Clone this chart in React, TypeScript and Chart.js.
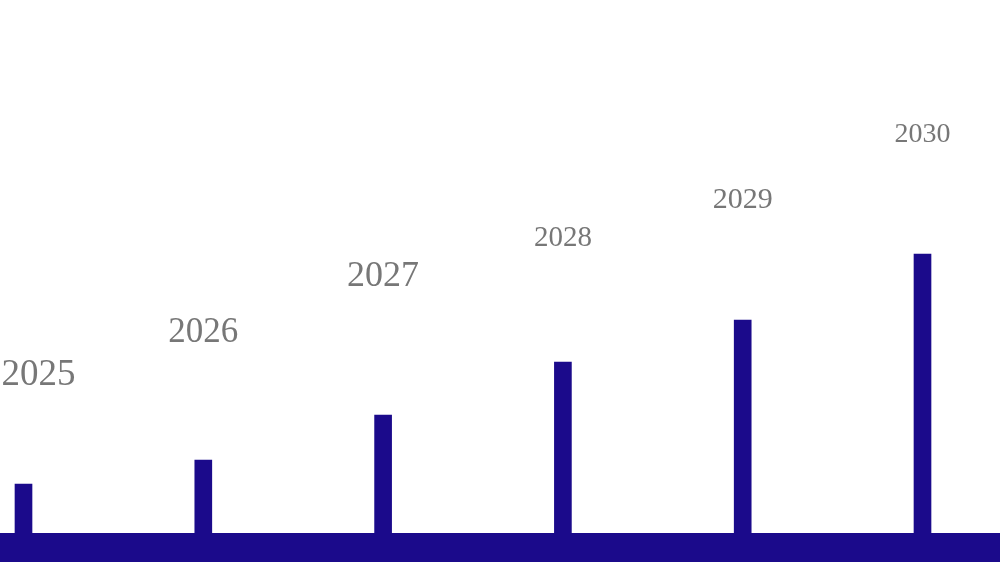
import React, { useEffect, useRef } from "react";
import { Chart, registerables } from "chart.js";

Chart.register(...registerables);

const years = ["2025", "2026", "2027", "2028", "2029", "2030"];
const barValues = [50, 74, 119, 172, 214, 280];
const labelValues = [159, 201, 257, 296, 334, 399];

const NAVY = "#1b0a8b";
const labelFontSizes = [37, 35, 36, 29, 30, 28];
const labelDx = [15, 0, 0, 0, 0, 0];

const yearLabelsPlugin = {
  id: "yearLabels",
  afterDatasetsDraw(chart: any) {
    const { ctx } = chart;
    const xs = chart.scales.x;
    const ys = chart.scales.y;
    ctx.save();
    ctx.fillStyle = "#777777";
    ctx.textAlign = "center";
    ctx.textBaseline = "middle";
    years.forEach((yr, i) => {
      ctx.font = `${labelFontSizes[i]}px "Liberation Serif", "Times New Roman", serif`;
      ctx.fillText(yr, xs.getPixelForValue(i) + labelDx[i], ys.getPixelForValue(labelValues[i]));
    });
    ctx.restore();
  },
};

const baselinePlugin = {
  id: "baseline",
  afterDatasetsDraw(chart: any) {
    const { ctx, chartArea, width, height } = chart;
    ctx.save();
    ctx.fillStyle = NAVY;
    ctx.fillRect(0, chartArea.bottom - 1, width, height - chartArea.bottom + 1);
    ctx.restore();
  },
};

export default function App() {
  const ref = useRef<HTMLCanvasElement | null>(null);
  useEffect(() => {
    if (!ref.current) return;
    const chart = new Chart(ref.current, {
      type: "bar",
      data: {
        labels: years,
        datasets: [
          {
            data: barValues,
            backgroundColor: NAVY,
            barThickness: 17,
            clip: false as any,
          },
        ],
      },
      options: {
        animation: false,
        responsive: false,
        maintainAspectRatio: false,
        layout: { padding: { left: 23.5, right: 77.5, top: 0, bottom: 28 } },
        plugins: { legend: { display: false }, tooltip: { enabled: false } },
        scales: {
          x: { display: false, offset: false },
          y: { display: false, min: 0, max: 534 },
        },
      },
      plugins: [yearLabelsPlugin, baselinePlugin],
    });
    return () => chart.destroy();
  }, []);
  return (
    <div style={{ position: "absolute", left: 0, top: 0, width: 1000, height: 562, background: "#fff" }}>
      <canvas ref={ref} width={1000} height={562} style={{ width: 1000, height: 562, display: "block" }} />
    </div>
  );
}
